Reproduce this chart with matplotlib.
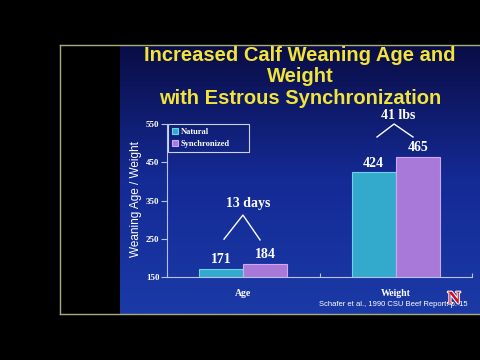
import matplotlib.pyplot as plt
import matplotlib as mpl
import matplotlib.patheffects as pe
import numpy as np
from matplotlib.colors import LinearSegmentedColormap
from matplotlib.lines import Line2D

mpl.rcParams["figure.dpi"] = 100

categories = ["Age", "Weight"]
series_names = ["Natural", "Synchronized"]
natural = [171, 424]
synchronized = [184, 465]
diff_labels = ["13 days", "41 lbs"]
yticks = [150, 250, 350, 450, 550]

title = "Increased Calf Weaning Age and\nWeight\nwith Estrous Synchronization"
source = "Schafer et al., 1990 CSU Beef Report. p. 15"

W, H = 480, 360


def fx(px):
    return px / W


def fy(py):
    return 1 - py / H


fig = plt.figure(figsize=(4.8, 3.6), dpi=100, facecolor="black")

# slide background (blue gradient)
bg = fig.add_axes([fx(120), fy(314), fx(360), (314 - 45) / H])
grad = np.linspace(0, 1, 256).reshape(-1, 1)
cmap = LinearSegmentedColormap.from_list("slide", ["#0a0d45", "#142a95", "#1b3aa6"])
bg.imshow(grad, aspect="auto", cmap=cmap, extent=[0, 1, 0, 1], origin="upper")
bg.set_axis_off()

# thin frame around the slide
frame = "#a9ad78"
fig.add_artist(Line2D([fx(60), 1], [fy(45), fy(45)], transform=fig.transFigure, color=frame, lw=1))
fig.add_artist(Line2D([fx(60), 1], [fy(314), fy(314)], transform=fig.transFigure, color=frame, lw=1))
fig.add_artist(Line2D([fx(60), fx(60)], [fy(45), fy(314)], transform=fig.transFigure, color=frame, lw=1))

fig.text(fx(300), fy(77), title, ha="center", va="center", color="#f2e43a",
         fontsize=14.5, fontweight="bold", family="Liberation Sans", linespacing=1.18)

# chart
ax = fig.add_axes([fx(167), fy(277), 305 / W, 153 / H])
ax.set_facecolor("none")
x = np.arange(len(categories))
w = 0.29
serif = "Liberation Serif"
b1 = ax.bar(x - w / 2, natural, w, color="#33a9cc", edgecolor="#6fd3ea", lw=0.8, label=series_names[0])
b2 = ax.bar(x + w / 2, synchronized, w, color="#a879d9", edgecolor="#cfa8f2", lw=0.8, label=series_names[1])
ax.set_xlim(-0.5, 1.5)
ax.set_ylim(150, 550)

for bars in (b1, b2):
    for r in bars:
        ax.annotate(f"{r.get_height():.0f}", (r.get_x() + r.get_width() / 2, r.get_height()),
                    xytext=(0, 6.5), textcoords="offset points", ha="center", va="center",
                    color="white", fontsize=10, fontweight="bold", family=serif)

# difference brackets
brackets = [
    ([-0.126, -0.002, 0.11], [249, 312, 247], (0.031, 343)),
    ([0.877, 0.989, 1.113], [516, 550, 516], (1.015, 573)),
]
for (bx, by, tpos), lab in zip(brackets, diff_labels):
    ax.plot(bx, by, color="white", lw=1, clip_on=False)
    ax.text(tpos[0], tpos[1], lab, ha="center", va="center", color="white",
            fontsize=10, fontweight="bold", family=serif, clip_on=False)

for s in ("top", "right"):
    ax.spines[s].set_visible(False)
for s in ("left", "bottom"):
    ax.spines[s].set_color("#b8c2ee")
    ax.spines[s].set_linewidth(0.8)

ax.set_yticks(yticks)
ax.tick_params(axis="y", colors="#b8c2ee", length=4, width=0.8, pad=1.5, labelcolor="white")
for t in ax.get_yticklabels():
    t.set_fontsize(6.5)
    t.set_fontweight("bold")
    t.set_family(serif)

ax.set_xticks([-0.5, 0.5, 1.5])
ax.set_xticklabels([])
ax.tick_params(axis="x", which="major", colors="#b8c2ee", length=3, width=0.8, direction="in")
ax.set_xticks(x, minor=True)
ax.set_xticklabels(categories, minor=True)
ax.tick_params(axis="x", which="minor", length=0, pad=8.5, labelcolor="white")
for t in ax.get_xticklabels(minor=True):
    t.set_fontsize(7)
    t.set_fontweight("bold")
    t.set_family(serif)

ax.set_ylabel("Weaning Age / Weight", color="white", fontsize=8.5, family="Liberation Sans")
ax.yaxis.set_label_coords(-0.082, 0.51)

leg = ax.legend(loc="upper left", bbox_to_anchor=(0.003, 0.8, 0.266, 0.2), mode="expand",
                borderaxespad=0, fancybox=False, handlelength=0.7, handleheight=0.7,
                handletextpad=0.3, borderpad=0.5, labelspacing=0.45,
                prop={"family": serif, "weight": "bold", "size": 6})
leg.get_frame().set_edgecolor("white")
leg.get_frame().set_facecolor("none")
leg.get_frame().set_linewidth(0.8)
for t in leg.get_texts():
    t.set_color("white")

fig.text(fx(468), fy(304), source, ha="right", va="center", color="white",
         fontsize=5.5, family="Liberation Sans")
# university logo, drawn over the end of the citation as on the slide
fig.text(fx(454), fy(299), "N", ha="center", va="center", color="#c8102e", fontsize=13,
         fontweight="bold", family=serif,
         path_effects=[pe.withStroke(linewidth=1.5, foreground="white")])

fig.savefig("out.png", dpi=100, facecolor="black")
